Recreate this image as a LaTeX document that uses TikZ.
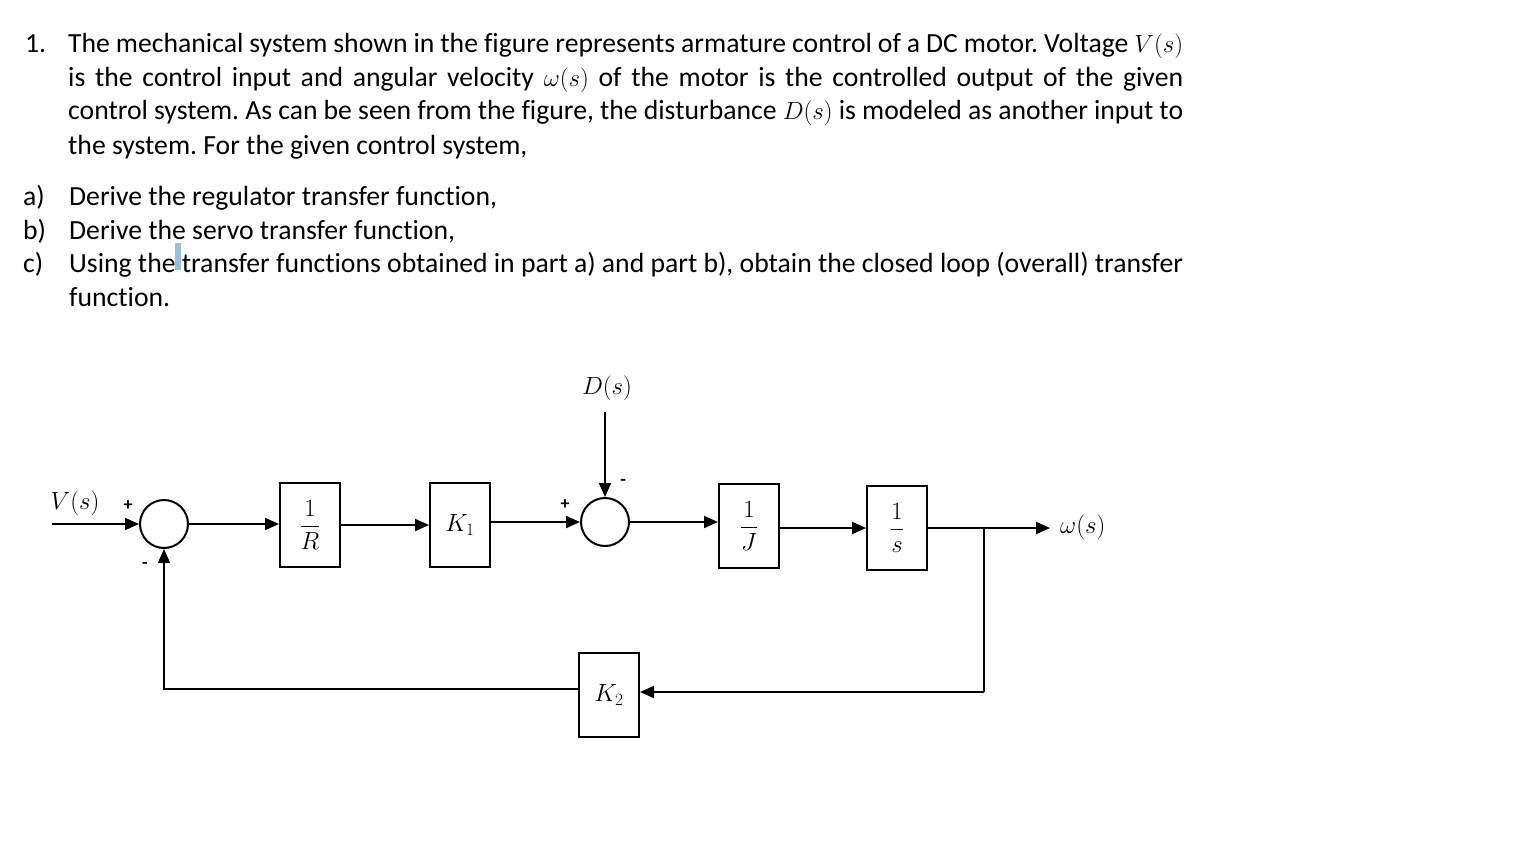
\documentclass[tikz,border=0pt]{standalone}
\usepackage{fontspec}
\setmainfont[Ligatures=NoCommon]{Carlito}
\usetikzlibrary{arrows.meta}
\definecolor{cursorblue}{RGB}{150,190,222}
\frenchspacing
\begin{document}
\begin{tikzpicture}[x=1pt,y=-1pt,
  txt/.style={anchor=base west, inner sep=0, font=\fontsize{27.7}{32}\selectfont},
  blk/.style={draw, line width=2pt, minimum width=60pt, minimum height=84pt, inner sep=0, font=\fontsize{25}{28}\selectfont},
  sumc/.style={draw, circle, line width=2pt, minimum size=48pt, inner sep=0},
  sig/.style={line width=2pt, -{Triangle[length=14pt,width=12pt]}},
  fb/.style={line width=1.5pt},
  sgn/.style={font=\fontsize{18}{18}\selectfont\bfseries, inner sep=0},
  lbl/.style={font=\fontsize{25}{28}\selectfont, inner sep=0}]
\useasboundingbox (0,0) rectangle (1536,864);
% question text
\fill[cursorblue] (175,243) rectangle (181,270);
\node[txt] (n1) at (25,53) {1.};
\node[txt] (l1) at (68,53) {\makebox[1115pt][s]{The mechanical system shown in the figure represents armature control of a DC motor. Voltage $V(s)$}};
\node[txt] (l2) at (68,87) {\makebox[1115pt][s]{is the control input and angular velocity $\omega(s)$ of the motor is the controlled output of the given}};
\node[txt] (l3) at (68,120) {\makebox[1115pt][s]{control system. As can be seen from the figure, the disturbance $D(s)$ is modeled as another input to}};
\node[txt] (l4) at (68,154) {the system. For the given control system,};
\node[txt] (na) at (23,205) {a)};
\node[txt] (la) at (69,205) {Derive the regulator transfer function,};
\node[txt] (nb) at (23,239) {b)};
\node[txt] (lb) at (69,239) {Derive the servo transfer function,};
\node[txt] (nc) at (23,272) {c)};
\node[txt] (lc) at (69,272) {\makebox[1114pt][s]{Using the transfer functions obtained in part a) and part b), obtain the closed loop (overall) transfer}};
\node[txt] (ld) at (69,306) {function.};
% diagram
\node[lbl] (vin) at (75,503) {$V(s)$};
\coordinate (vstart) at (52,524);
\node[sumc] (s1) at (164,524) {};
\node[blk] (br) at (310,525) {$\displaystyle\frac{1}{R}$};
\node[blk] (bk1) at (460,525) {$K_1$};
\node[sumc] (s2) at (605,522) {};
\node[lbl] (dlab) at (607,388) {$D(s)$};
\coordinate (dtop) at (605,412);
\node[blk] (bj) at (749,526) {$\displaystyle\frac{1}{J}$};
\node[blk] (bs) at (897,528) {$\displaystyle\frac{1}{s}$};
\node[lbl, anchor=west] (wout) at (1060,527) {$\omega(s)$};
\coordinate (wend) at (1050,528);
\coordinate (brn) at (984,528);
\coordinate (fbc) at (984,692);
\node[blk] (bk2) at (609,695) {$K_2$};
\node[sgn] (p1) at (128,506) {+};
\node[sgn] (m1) at (145,565) {-};
\node[sgn] (p2) at (565,505) {+};
\node[sgn] (m2) at (623,482) {-};
\draw[sig] (vstart) -- (s1.west);
\draw[sig] (s1.east) -- (br.west |- s1.east);
\draw[sig] (br.east) -- (bk1.west);
\draw[sig] (bk1.east |- s2.west) -- (s2.west);
\draw[sig] (dtop) -- (s2.north);
\draw[sig] (s2.east) -- (bj.west |- s2.east);
\draw[sig] (bj.east |- bs.west) -- (bs.west);
\draw[sig] (bs.east) -- (wend);
\draw[fb] (brn) -- (fbc);
\draw[sig] (fbc) -- (bk2.east |- fbc);
\draw[fb, -{Triangle[length=14pt,width=12pt]}] (bk2.west |- 0,689) -- (s1.south |- 0,689) -- (s1.south);
\end{tikzpicture}
\end{document}
